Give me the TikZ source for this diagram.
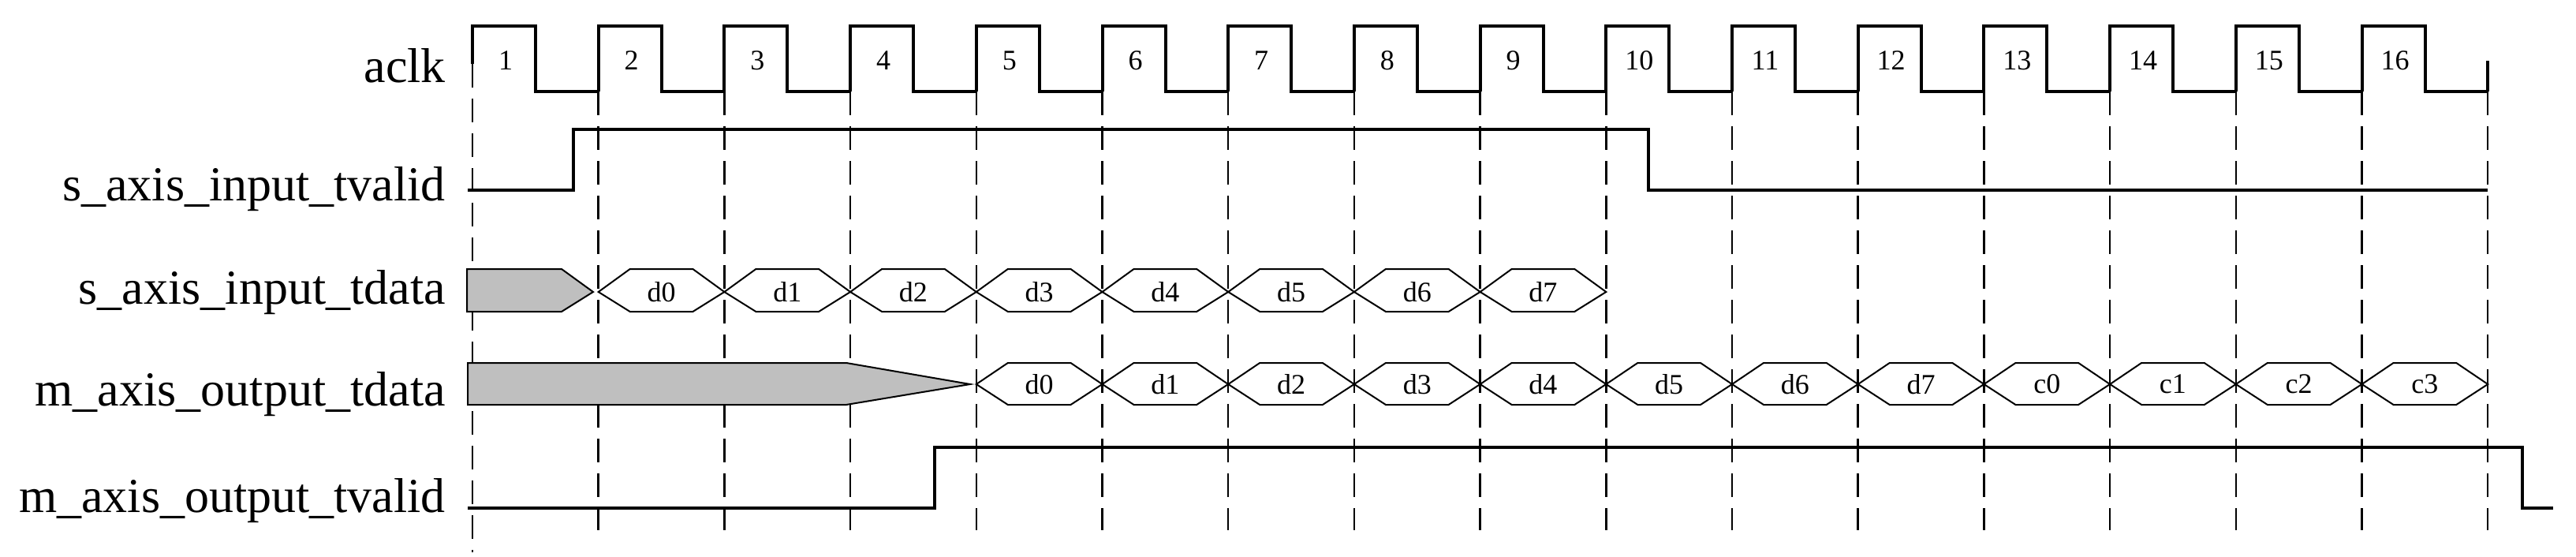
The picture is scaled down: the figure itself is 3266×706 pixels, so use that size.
\documentclass[tikz,border=0pt]{standalone}
\usepackage{fontspec}
\setmainfont{Liberation Serif}
\begin{document}
\begin{tikzpicture}[x=1pt,y=-1pt,
  sig/.style={line width=4pt},
  grid/.style={line width=2.5pt,dash pattern=on 30pt off 14pt},
  hexa/.style={line width=2pt},
  lbl/.style={anchor=east,font=\fontsize{62}{70}\selectfont,inner sep=0pt},
  num/.style={font=\fontsize{36}{40}\selectfont,inner sep=0pt},
  dat/.style={font=\fontsize{36}{40}\selectfont,inner sep=0pt}]
\useasboundingbox (0,0) rectangle (3266,706);
\def\P{159.7}
\def\XO{599}
% labels
\node[lbl] (l1) at (565,83) {aclk};
\node[lbl] (l2) at (565,240) {s\_axis\_input\_tvalid};
\node[lbl] (l3) at (565,371) {s\_axis\_input\_tdata};
\node[lbl] (l4) at (565,500) {m\_axis\_output\_tdata};
\node[lbl] (l5) at (565,635) {m\_axis\_output\_tvalid};
% grid
\draw[grid] (\XO,81) -- (\XO,700);
\foreach \k in {1,...,16}
  \draw[grid] ({\XO+\k*\P},116) -- ({\XO+\k*\P},672);
% clock
\foreach \k in {0,...,15}{
  \draw[sig] ({\XO+\k*\P},{\k==0?81:116}) -- ({\XO+\k*\P},33) -- ({\XO+\k*\P+80},33) -- ({\XO+\k*\P+80},116) -- ({\XO+(\k+1)*\P},116);
  \pgfmathtruncatemacro\n{\k+1}
  \node[num] (c\n) at ({\XO+\k*\P+42},77) {\n};
}
\draw[sig] ({\XO+16*\P},116) -- ({\XO+16*\P},77);
% s valid
\draw[sig] (593,241) -- (727,241) -- (727,164) -- (2090,164) -- (2090,241) -- ({\XO+16*\P},241);
% m valid
\draw[sig] (593,644) -- (1185,644) -- (1185,567) -- (3198,567) -- (3198,644) -- (3237,644);
% s tdata
\draw[hexa,fill=gray!50] (592,341) -- (712,341) -- (752,370) -- (712,395) -- (592,395) -- cycle;
\foreach \k/\t in {1/d0,2/d1,3/d2,4/d3,5/d4,6/d5,7/d6,8/d7}{
  \pgfmathsetmacro\a{\XO+\k*\P}
  \pgfmathsetmacro\b{\XO+(\k+1)*\P}
  \draw[hexa] (\a,370) -- (\a+40,341) -- (\b-40,341) -- (\b,370) -- (\b-40,395) -- (\a+40,395) -- cycle;
  \node[dat] (s\k) at ({(\a+\b)/2},370) {\t};
}
% m tdata
\draw[hexa,fill=gray!50] (593,460) -- (1073,460) -- (1230,487) -- (1073,513) -- (593,513) -- cycle;
\foreach \k/\t in {4/d0,5/d1,6/d2,7/d3,8/d4,9/d5,10/d6,11/d7,12/c0,13/c1,14/c2,15/c3}{
  \pgfmathsetmacro\a{\XO+\k*\P}
  \pgfmathsetmacro\b{\XO+(\k+1)*\P}
  \draw[hexa] (\a,487) -- (\a+40,460) -- (\b-40,460) -- (\b,487) -- (\b-40,513) -- (\a+40,513) -- cycle;
  \node[dat] (m\k) at ({(\a+\b)/2},487) {\t};
}
\end{tikzpicture}
\end{document}
